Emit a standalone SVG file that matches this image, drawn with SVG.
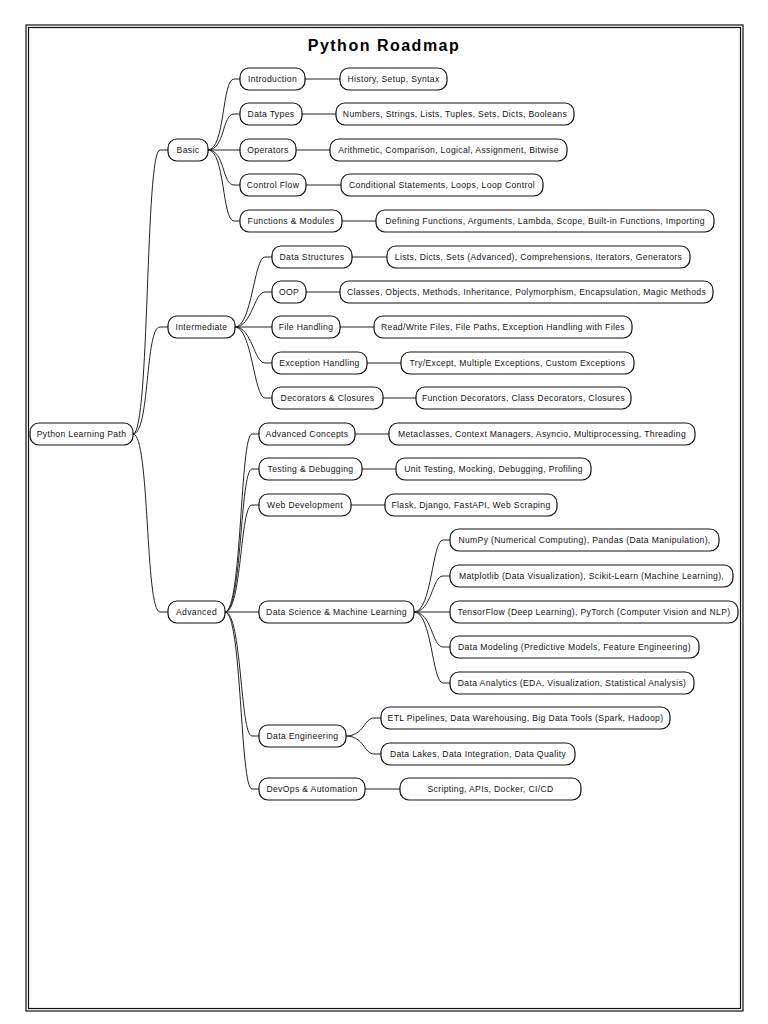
<svg xmlns="http://www.w3.org/2000/svg" width="768" height="1024" viewBox="0 0 768 1024">
<style>
.n rect{fill:#fff;stroke:#111;stroke-width:1.2}
.n text{font-family:"Liberation Sans",Arial,sans-serif;font-size:8.6px;letter-spacing:0.35px;fill:#111;text-anchor:middle;dominant-baseline:central}
#connectors path{fill:none;stroke:#222;stroke-width:1}
</style>
<rect x="0" y="0" width="768" height="1024" fill="#fff"/>
<rect x="26" y="25" width="717" height="986" fill="none" stroke="#111" stroke-width="1.2"/>
<rect x="28.5" y="27.5" width="712" height="981" fill="none" stroke="#111" stroke-width="1.2"/>
<text x="384" y="51" font-family="Liberation Sans,Arial,sans-serif" font-size="16" font-weight="bold" letter-spacing="1.5" text-anchor="middle">Python Roadmap</text>
<g id="connectors">
<path d="M133,434 C150,434 145,150 160,150 L168,150"/>
<path d="M133,434 C150,434 145,327 160,327 L168,327"/>
<path d="M133,434 C150,434 145,612 160,612 L168,612"/>
<path d="M208,150 C225,150 222,79 234,79 L240,79"/>
<path d="M208,150 C225,150 222,114 234,114 L240,114"/>
<path d="M208,150 L240,150"/>
<path d="M208,150 C225,150 222,185 234,185 L240,185"/>
<path d="M208,150 C225,150 222,221 234,221 L240,221"/>
<path d="M305,79 L340,79"/><path d="M302,114 L336,114"/><path d="M296,150 L330,150"/><path d="M306,185 L341,185"/><path d="M342,221 L376,221"/>
<path d="M235,327 C252,327 254,257 265,257 L272,257"/>
<path d="M235,327 C252,327 254,292 265,292 L272,292"/>
<path d="M235,327 L272,327"/>
<path d="M235,327 C252,327 254,363 265,363 L272,363"/>
<path d="M235,327 C252,327 254,398 265,398 L272,398"/>
<path d="M352,257 L387,257"/><path d="M306,292 L340,292"/><path d="M340,327 L374,327"/><path d="M367,363 L401,363"/><path d="M383,398 L416,398"/>
<path d="M225,612 C242,612 240,434 252,434 L259,434"/>
<path d="M225,612 C242,612 240,469 252,469 L259,469"/>
<path d="M225,612 C242,612 240,505 252,505 L259,505"/>
<path d="M225,612 L259,612"/>
<path d="M225,612 C242,612 240,736 252,736 L259,736"/>
<path d="M225,612 C242,612 240,789 252,789 L259,789"/>
<path d="M355,434 L389,434"/><path d="M362,469 L396,469"/><path d="M351,505 L385,505"/><path d="M365,789 L400,789"/>
<path d="M414,612 C432,612 432,540 443,540 L450,540"/>
<path d="M414,612 C432,612 432,576 443,576 L450,576"/>
<path d="M414,612 L450,612"/>
<path d="M414,612 C432,612 432,647 443,647 L450,647"/>
<path d="M414,612 C432,612 432,683 443,683 L450,683"/>
<path d="M346,736 C364,736 364,718 374,718 L381,718"/>
<path d="M346,736 C364,736 364,754 374,754 L381,754"/>
</g>
<g id="root" class="n"><rect x="30" y="423" width="103" height="22" rx="9"/><text x="81.5" y="434">Python Learning Path</text></g>
<g id="basic" class="n"><rect x="168" y="139" width="40" height="22" rx="9"/><text x="188" y="150">Basic</text></g>
<g id="intermediate" class="n"><rect x="168" y="316" width="67" height="22" rx="9"/><text x="201.5" y="327">Intermediate</text></g>
<g id="advanced" class="n"><rect x="168" y="601" width="57" height="22" rx="9"/><text x="196.5" y="612">Advanced</text></g>
<g id="introduction" class="n"><rect x="240" y="68" width="65" height="22" rx="9"/><text x="272.5" y="79">Introduction</text></g>
<g id="introduction-d" class="n"><rect x="340" y="68" width="107" height="22" rx="9"/><text x="393.5" y="79">History, Setup, Syntax</text></g>
<g id="datatypes" class="n"><rect x="240" y="103" width="62" height="22" rx="9"/><text x="271" y="114">Data Types</text></g>
<g id="datatypes-d" class="n"><rect x="336" y="103" width="238" height="22" rx="9"/><text x="455" y="114">Numbers, Strings, Lists, Tuples, Sets, Dicts, Booleans</text></g>
<g id="operators" class="n"><rect x="240" y="139" width="56" height="22" rx="9"/><text x="268" y="150">Operators</text></g>
<g id="operators-d" class="n"><rect x="330" y="139" width="237" height="22" rx="9"/><text x="448.5" y="150">Arithmetic, Comparison, Logical, Assignment, Bitwise</text></g>
<g id="controlflow" class="n"><rect x="240" y="174" width="66" height="22" rx="9"/><text x="273" y="185">Control Flow</text></g>
<g id="controlflow-d" class="n"><rect x="341" y="174" width="202" height="22" rx="9"/><text x="442" y="185">Conditional Statements, Loops, Loop Control</text></g>
<g id="functions" class="n"><rect x="240" y="210" width="102" height="22" rx="9"/><text x="291" y="221">Functions &amp; Modules</text></g>
<g id="functions-d" class="n"><rect x="376" y="210" width="338" height="22" rx="9"/><text x="545" y="221">Defining Functions, Arguments, Lambda, Scope, Built-in Functions, Importing</text></g>
<g id="datastructures" class="n"><rect x="272" y="246" width="80" height="22" rx="9"/><text x="312" y="257">Data Structures</text></g>
<g id="datastructures-d" class="n"><rect x="387" y="246" width="303" height="22" rx="9"/><text x="538.5" y="257">Lists, Dicts, Sets (Advanced), Comprehensions, Iterators, Generators</text></g>
<g id="oop" class="n"><rect x="272" y="281" width="34" height="22" rx="9"/><text x="289" y="292">OOP</text></g>
<g id="oop-d" class="n"><rect x="340" y="281" width="373" height="22" rx="9"/><text x="526.5" y="292">Classes, Objects, Methods, Inheritance, Polymorphism, Encapsulation, Magic Methods</text></g>
<g id="filehandling" class="n"><rect x="272" y="316" width="68" height="22" rx="9"/><text x="306" y="327">File Handling</text></g>
<g id="filehandling-d" class="n"><rect x="374" y="316" width="258" height="22" rx="9"/><text x="503" y="327">Read/Write Files, File Paths, Exception Handling with Files</text></g>
<g id="exception" class="n"><rect x="272" y="352" width="95" height="22" rx="9"/><text x="319.5" y="363">Exception Handling</text></g>
<g id="exception-d" class="n"><rect x="401" y="352" width="233" height="22" rx="9"/><text x="517.5" y="363">Try/Except, Multiple Exceptions, Custom Exceptions</text></g>
<g id="decorators" class="n"><rect x="272" y="387" width="111" height="22" rx="9"/><text x="327.5" y="398">Decorators &amp; Closures</text></g>
<g id="decorators-d" class="n"><rect x="416" y="387" width="215" height="22" rx="9"/><text x="523.5" y="398">Function Decorators, Class Decorators, Closures</text></g>
<g id="advconcepts" class="n"><rect x="259" y="423" width="96" height="22" rx="9"/><text x="307" y="434">Advanced Concepts</text></g>
<g id="advconcepts-d" class="n"><rect x="389" y="423" width="306" height="22" rx="9"/><text x="542" y="434">Metaclasses, Context Managers, Asyncio, Multiprocessing, Threading</text></g>
<g id="testing" class="n"><rect x="259" y="458" width="103" height="22" rx="9"/><text x="310.5" y="469">Testing &amp; Debugging</text></g>
<g id="testing-d" class="n"><rect x="396" y="458" width="195" height="22" rx="9"/><text x="493.5" y="469">Unit Testing, Mocking, Debugging, Profiling</text></g>
<g id="webdev" class="n"><rect x="259" y="494" width="92" height="22" rx="9"/><text x="305" y="505">Web Development</text></g>
<g id="webdev-d" class="n"><rect x="385" y="494" width="172" height="22" rx="9"/><text x="471" y="505">Flask, Django, FastAPI, Web Scraping</text></g>
<g id="datascience" class="n"><rect x="259" y="601" width="155" height="22" rx="9"/><text x="336.5" y="612">Data Science &amp; Machine Learning</text></g>
<g id="ds-numpy" class="n"><rect x="450" y="529" width="269" height="22" rx="9"/><text x="584.5" y="540">NumPy (Numerical Computing), Pandas (Data Manipulation),</text></g>
<g id="ds-matplotlib" class="n"><rect x="450" y="565" width="283" height="22" rx="9"/><text x="591.5" y="576">Matplotlib (Data Visualization), Scikit-Learn (Machine Learning),</text></g>
<g id="ds-tensorflow" class="n"><rect x="450" y="601" width="288" height="22" rx="9"/><text x="594" y="612">TensorFlow (Deep Learning), PyTorch (Computer Vision and NLP)</text></g>
<g id="ds-modeling" class="n"><rect x="450" y="636" width="249" height="22" rx="9"/><text x="574.5" y="647">Data Modeling (Predictive Models, Feature Engineering)</text></g>
<g id="ds-analytics" class="n"><rect x="450" y="672" width="244" height="22" rx="9"/><text x="572" y="683">Data Analytics (EDA, Visualization, Statistical Analysis)</text></g>
<g id="dataeng" class="n"><rect x="259" y="725" width="87" height="22" rx="9"/><text x="302.5" y="736">Data Engineering</text></g>
<g id="de-etl" class="n"><rect x="381" y="707" width="289" height="22" rx="9"/><text x="525.5" y="718">ETL Pipelines, Data Warehousing, Big Data Tools (Spark, Hadoop)</text></g>
<g id="de-lakes" class="n"><rect x="381" y="743" width="194" height="22" rx="9"/><text x="478" y="754">Data Lakes, Data Integration, Data Quality</text></g>
<g id="devops" class="n"><rect x="259" y="778" width="106" height="22" rx="9"/><text x="312" y="789">DevOps &amp; Automation</text></g>
<g id="devops-d" class="n"><rect x="400" y="778" width="181" height="22" rx="9"/><text x="490.5" y="789">Scripting, APIs, Docker, CI/CD</text></g>
</svg>
